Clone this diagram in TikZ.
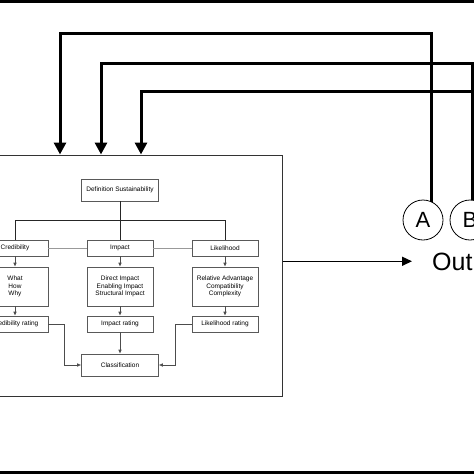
\documentclass[tikz,border=0pt]{standalone}
\usepackage{fontspec}
\setmainfont{Liberation Sans}
\usetikzlibrary{arrows.meta}

\tikzset{
	kasten/.style={draw=black!65, line width=0.6pt, fill=white, align=center,
		inner sep=1pt, font=\fontsize{6.5}{7.8}\selectfont},
	klein/.style={kasten, minimum width=66pt, minimum height=16pt},
	gross/.style={kasten, minimum width=66pt, minimum height=39pt},
	titel/.style={kasten, minimum width=77pt, minimum height=22pt},
	verbindung/.style={draw=black!70, line width=0.6pt, -{Latex[length=4pt,width=3.5pt]}},
	balken/.style={draw=black!85, line width=1pt},
	querlinie/.style={draw=black!40, line width=0.6pt},
	rueckpfeil/.style={line width=3pt, -{Triangle[length=12pt,width=12pt]}},
	kreis/.style={circle, draw, line width=0.8pt, minimum size=40pt, inner sep=0pt,
		font=\fontsize{22}{22}\selectfont}
}

\begin{document}
\begin{tikzpicture}[x=1pt, y=-1pt]
	\useasboundingbox (0,0) rectangle (474,474);
	\clip (0,0) rectangle (474,474);
	% Rahmenlinien oben und unten
	\draw[line width=2.7pt] (0,1.2) -- (474,1.2);
	\draw[line width=3pt] (0,472.5) -- (474,472.5);
	% Modell
	\node[draw=black!80, line width=1pt, minimum width=324pt, minimum height=241pt,
		inner sep=0pt] (modell) at (120,275.5) {};
	\node[titel] (def) at (120,190) {Definition Sustainability};
	\node[klein] (cred) at (15,248) {Credibility};
	\node[klein] (imp) at (120,248) {Impact};
	\node[klein] (like) at (225,248) {Likelihood};
	\node[gross] (credinhalt) at (15,286.5) {What\\How\\Why};
	\node[gross] (impinhalt) at (120,286.5) {Direct Impact\\Enabling Impact\\Structural Impact};
	\node[gross] (likeinhalt) at (225,286.5) {Relative Advantage\\Compatibility\\Complexity};
	\node[klein] (credrating) at (15,324) {Credibility rating};
	\node[klein] (imprating) at (120,324) {Impact rating};
	\node[klein] (likerating) at (225,324) {Likelihood rating};
	\node[titel] (klass) at (120,365) {Classification};
	% Verbindungen im Modell
	\coordinate (bar) at (0,220);
	\draw[balken] (def) -- (imp);
	\draw[balken] (cred.north) -- (cred.north |- bar) -- (like.north |- bar) -- (like.north);
	\draw[querlinie] (cred) -- (imp);
	\draw[querlinie] (imp) -- (like);
	\foreach \s in {cred, imp, like} {
		\draw[verbindung] (\s) -- (\s inhalt);
		\draw[verbindung] (\s inhalt) -- (\s rating);
	}
	\draw[verbindung] (imprating) -- (klass);
	\coordinate (knickL) at (64,0);
	\coordinate (knickR) at (175,0);
	\draw[verbindung] (credrating.east) -| (knickL |- klass.west) -- (klass.west);
	\draw[verbindung] (likerating.west) -| (knickR |- klass.east) -- (klass.east);
	% Ausgabe
	\node[kreis] (kreisA) at (423,220) {A};
	\node[kreis] (kreisB) at (470,220) {B};
	\node[anchor=base west, inner sep=0pt, text depth=0pt,
		font=\fontsize{25}{25}\selectfont] (output) at (432,270) {Output};
	\draw[line width=1.5pt, -{Triangle[length=10pt,width=9pt]}, shorten >=20pt]
		(modell.east |- output.west) -- (output.west);
	% Rueckkopplung
	\coordinate (knick1) at (60,33);
	\coordinate (knick2) at (101,63);
	\coordinate (knick3) at (141,91);
	\coordinate (cende) at (480,91);
	\draw[rueckpfeil] (kreisA.64) |- (knick1) -- (knick1 |- modell.north);
	\draw[rueckpfeil] (kreisB.84) |- (knick2) -- (knick2 |- modell.north);
	\draw[rueckpfeil] (cende) -- (knick3) -- (knick3 |- modell.north);
\end{tikzpicture}
\end{document}
